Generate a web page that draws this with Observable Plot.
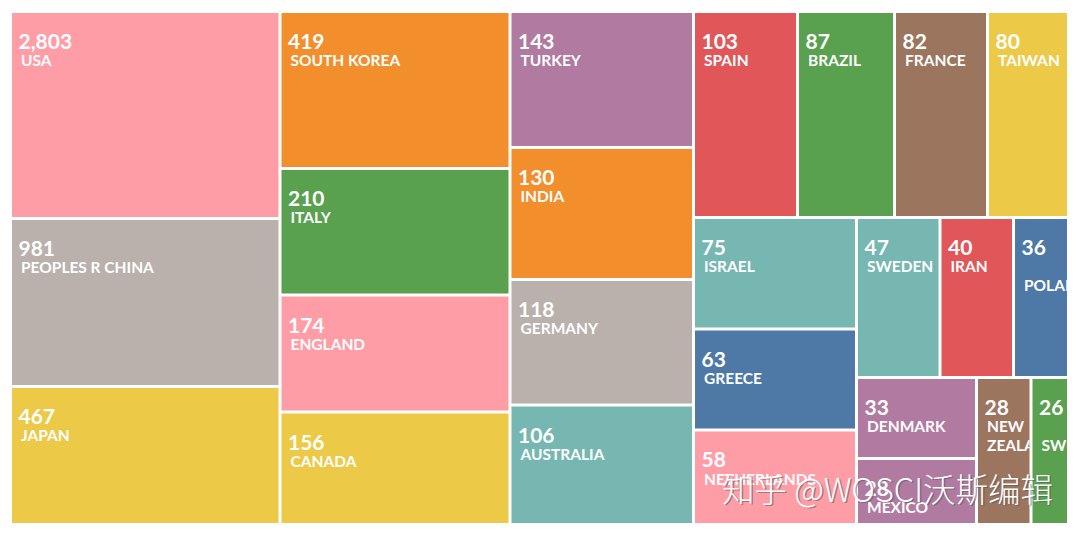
<!DOCTYPE html>
<html>
<head>
<meta charset="utf-8">
<script src="https://cdn.jsdelivr.net/npm/d3@7"></script>
<script src="https://cdn.jsdelivr.net/npm/@observablehq/plot@0.6"></script>
<style>
  html, body { margin: 0; padding: 0; background: #ffffff; }
  #chart svg { display: block; }
</style>
</head>
<body>
<div id="chart"></div>
<script>
// ---- data ----
const countries = ["USA","PEOPLES R CHINA","JAPAN","SOUTH KOREA","ITALY","ENGLAND","CANADA",
  "TURKEY","INDIA","GERMANY","AUSTRALIA","SPAIN","BRAZIL","FRANCE","TAIWAN",
  "ISRAEL","GREECE","NETHERLANDS","SWEDEN","IRAN","POLAND","DENMARK","MEXICO",
  "NEW ZEALAND","SWITZERLAND"];
// record counts shown as labels
const records = [2803,981,467,419,210,174,156,143,130,118,106,103,87,82,80,75,63,58,47,40,36,33,28,28,26];
// tile size measure (estimated from the tile areas in the picture)
const sizes = [55787,45276,37191,36110,29095,26910,25875,24956,24222,23029,21928,
  21424,19982,19158,16686,18175,16463,15404,13360,11760,8800,9720,7920,8012,5512];
const colors = ["#FF9DA7","#BAB0AC","#EDC948","#F28E2B","#59A14F","#FF9DA7","#EDC948",
  "#B07AA1","#F28E2B","#BAB0AC","#76B7B2","#E15759","#59A14F","#9C755F","#EDC948",
  "#76B7B2","#4E79A7","#FF9DA7","#76B7B2","#E15759","#4E79A7","#B07AA1","#B07AA1",
  "#9C755F","#59A14F"];
// name labels as wrapped in the reference
const nameLabels = ["USA","PEOPLES R CHINA","JAPAN","SOUTH KOREA","ITALY","ENGLAND","CANADA",
  "TURKEY","INDIA","GERMANY","AUSTRALIA","SPAIN","BRAZIL","FRANCE","TAIWAN",
  "ISRAEL","GREECE","NETHERLANDS","SWEDEN","IRAN","\nPOLAND","DENMARK","MEXICO",
  "NEW\nZEALAND","\nSWITZERLAND"];
// nesting of the tiles (alternating slice / dice)
const blocks = ["A","A","A","B","B","B","B","C","C","C","C",
  "D/1","D/1","D/1","D/1","D/2/1","D/2/1","D/2/1","D/2/2/1","D/2/2/1","D/2/2/1",
  "D/2/2/2/1","D/2/2/2/1","D/2/2/2","D/2/2/2"];
const watermark = "知乎 @WOSCI沃斯编辑";

// ---- build hierarchy ----
const tree = {key: "root", children: []};
countries.forEach((name, i) => {
  let node = tree;
  for (const key of blocks[i].split("/")) {
    let child = node.children.find(c => c.key === key && c.children);
    if (!child) { child = {key, children: []}; node.children.push(child); }
    node = child;
  }
  node.children.push({name, value: records[i], size: sizes[i], color: colors[i], label: nameLabels[i]});
});

const W = 1080, H = 536;
const ox = 10.5, oy = 11.5, TW = 1058, TH = 513;
const root = d3.hierarchy(tree).sum(d => d.size);
d3.treemap().tile(d3.treemapSliceDice).size([TW, TH])(root);
const leaves = root.leaves().map(l => ({
  ...l.data,
  x0: l.x0 + ox, x1: l.x1 + ox, y0: l.y0 + oy, y1: l.y1 + oy,
  nx: l.x0 + ox + 7.5, ny: l.y0 + oy + 37,
  lx: l.x0 + ox + 10, ly: l.y0 + oy + 41
}));
const fmt = d3.format(",");
const font = "Lato, 'Open Sans', sans-serif";

const chart = Plot.plot({
  width: W, height: H, margin: 0,
  x: {domain: [0, W], range: [0, W], axis: null},
  y: {domain: [0, H], range: [0, H], axis: null},
  color: {type: "identity"},
  style: {background: "#ffffff"},
  marks: [
    Plot.rect(leaves, {x1: "x0", x2: "x1", y1: "y0", y2: "y1", fill: "color", inset: 1.5}),
    Plot.text(leaves, {x: "nx", y: "ny", text: d => fmt(d.value), textAnchor: "start", lineAnchor: "bottom",
      fill: "white", fontSize: 21, fontWeight: 700, fontFamily: font}),
    Plot.text(leaves, {x: "lx", y: "ly", text: "label", textAnchor: "start", lineAnchor: "top", lineHeight: 1.2,
      fill: "white", fontSize: 15.5, fontWeight: 700, fontFamily: font}),
    Plot.text([watermark], {x: 888.5, y: 492.5, text: d => d, fill: "#555555", fillOpacity: 0.55,
      fontSize: 32.5, fontWeight: 300, fontFamily: "'Noto Sans CJK SC', sans-serif"}),
    Plot.text([watermark], {x: 887, y: 491, text: d => d, fill: "white",
      fontSize: 32.5, fontWeight: 300, fontFamily: "'Noto Sans CJK SC', sans-serif"})
  ]
});
document.getElementById("chart").appendChild(chart);

// clip each cell's labels to its own tile
const svg = d3.select(chart);
const defs = svg.insert("defs", ":first-child");
const textGroups = svg.selectAll('g[aria-label="text"]').nodes().slice(0, 2);
textGroups.forEach((g, gi) => {
  d3.select(g).selectAll("text").each(function(_, i) {
    const d = leaves[i];
    const ctm = this.getCTM();
    const id = `clip-${gi}-${i}`;
    defs.append("clipPath").attr("id", id).append("rect")
      .attr("x", d.x0 + 1.5 - ctm.e).attr("y", d.y0 + 1.5 - ctm.f)
      .attr("width", d.x1 - d.x0 - 3).attr("height", d.y1 - d.y0 - 3);
    this.setAttribute("clip-path", `url(#${id})`);
  });
});
</script>
</body>
</html>
